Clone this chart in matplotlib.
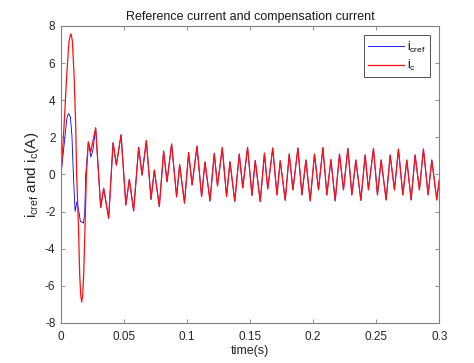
import numpy as np
import matplotlib
matplotlib.use('Agg')
import matplotlib.pyplot as plt

plt.rcParams['font.family'] = ['Liberation Sans', 'DejaVu Sans']
plt.rcParams['mathtext.default'] = 'regular'
plt.rcParams['axes.unicode_minus'] = False

# compensation current i_c (read at the turning points of the trace)
t_c = [0.0, 0.00246, 0.00452, 0.00626, 0.00705, 0.0080, 0.0090, 0.01038, 0.01165,
       0.01244, 0.01379, 0.01482, 0.0156, 0.01641, 0.0172, 0.01799, 0.0191, 0.02013,
       0.02171, 0.02354, 0.0275, 0.03147, 0.03384, 0.03781, 0.04129, 0.04391, 0.04763,
       0.05144, 0.05421, 0.05762, 0.06158, 0.06428, 0.06769, 0.07141, 0.07403, 0.07799,
       0.0814, 0.08409, 0.08774, 0.0917, 0.09408, 0.09796, 0.10121, 0.10399, 0.10787,
       0.11152, 0.11421, 0.11818, 0.12158, 0.12412, 0.12792, 0.13133, 0.13403, 0.13783,
       0.1414, 0.14417, 0.14798, 0.15146, 0.15408, 0.15804, 0.16137, 0.16399, 0.16795,
       0.17128, 0.17389, 0.17786, 0.18103, 0.18396, 0.18792, 0.19109, 0.19426, 0.19767,
       0.20108, 0.20425, 0.20774, 0.21091, 0.21408, 0.21749, 0.22089, 0.22406, 0.22755,
       0.23072, 0.23389, 0.23785, 0.24126, 0.24388, 0.24784, 0.25101, 0.25394, 0.25791,
       0.26108, 0.26449, 0.26766, 0.27115, 0.27431, 0.27772, 0.28089, 0.2843, 0.28747,
       0.2912, 0.29412, 0.29809, 0.30]
i_c = [0.0, 2.65, 5.34, 7.10, 7.43, 7.57, 7.21, 5.34, 2.65,
       -0.03, -2.71, -5.39, -6.46, -6.87, -6.50, -5.39, -2.71, -0.03,
       1.76, 1.21, 2.51, -1.78, -0.74, -2.36, 1.71, 0.51, 2.14,
       -1.64, -0.26, -1.96, 1.47, -0.03, 1.83, -1.34, 0.24, -1.73,
       1.26, -0.39, 1.64, -1.21, 0.53, -1.54, 1.18, -0.56, 1.53,
       -1.19, 0.67, -1.42, 1.14, -0.62, 1.45, -1.19, 0.69, -1.44,
       1.10, -0.72, 1.46, -1.13, 0.75, -1.46, 1.15, -0.78, 1.43,
       -1.10, 0.74, -1.39, 1.10, -0.83, 1.43, -1.10, 0.78, -1.42,
       1.10, -0.83, 1.45, -1.10, 0.80, -1.42, 1.10, -0.83, 1.40,
       -1.10, 0.78, -1.39, 1.05, -0.83, 1.40, -1.10, 0.78, -1.37,
       1.05, -0.83, 1.37, -1.10, 0.78, -1.37, 1.05, -0.83, 1.37,
       -1.10, 0.78, -1.37, -0.30]

# reference current i_cref: its own start, then it follows i_c
t_ref_start = [0.0, 0.00325, 0.00468, 0.00587, 0.00745, 0.00864, 0.00983, 0.01118,
               0.0126, 0.01435, 0.01538, 0.01775, 0.01878, 0.01958, 0.02172, 0.0237, 0.02528]
i_ref_start = [0.0, 2.12, 3.03, 3.28, 3.10, 2.12, -0.03, -1.99,
               -1.46, -2.06, -2.53, -2.62, -2.17, -0.03, 1.76, 0.94, 1.31]

t_c = np.array(t_c)
i_c = np.array(i_c)
tail = t_c >= 0.0275
t_ref = np.concatenate([t_ref_start, t_c[tail]])
i_ref = np.concatenate([i_ref_start, i_c[tail]])

fig = plt.figure(figsize=(4.74, 3.63), dpi=100)
ax = fig.add_axes([0.1287, 0.1102, 0.7979, 0.8182])

ax.plot(t_ref, i_ref, color='#0000ff', lw=0.6, label=r'$i_{cref}$')
ax.plot(t_c, i_c, color='#ff1010', lw=0.9, label=r'$i_c$')

ax.set_xlim(0, 0.3)
ax.set_ylim(-8, 8)
ax.set_xticks([0, 0.05, 0.1, 0.15, 0.2, 0.25, 0.3])
ax.set_xticklabels(['0', '0.05', '0.1', '0.15', '0.2', '0.25', '0.3'])
ax.set_yticks(np.arange(-8, 9, 2))

for s in ax.spines.values():
    s.set_color('#808080')
    s.set_linewidth(0.8)
ax.tick_params(direction='in', length=3, width=0.6, color='#808080',
               labelsize=8.5, labelcolor='#262626', top=True, right=True, pad=4)
ax.tick_params(axis='x', pad=6)

ax.set_title('Reference current and compensation current', fontsize=9, color='#1a1a1a', pad=4)
ax.set_xlabel('time(s)', fontsize=9, color='#262626', labelpad=1)
ax.set_ylabel(r'$i_{cref}$ and $i_c$(A)', fontsize=11, color='#262626', labelpad=3)

leg = ax.legend(loc='upper right', fontsize=8.5, handlelength=3.0, frameon=True, fancybox=False,
                borderpad=0.35, labelspacing=0.3, handletextpad=0.3, borderaxespad=0.8)
leg.get_frame().set_edgecolor('#262626')
leg.get_frame().set_linewidth(0.7)

fig.savefig('out.png', dpi=100)
